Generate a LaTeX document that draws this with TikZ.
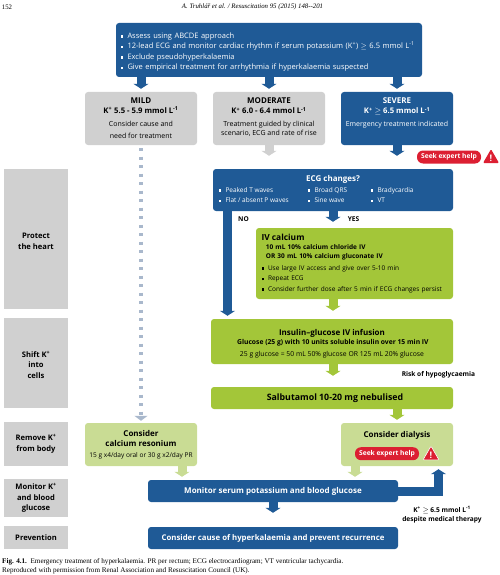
\documentclass[tikz,border=0pt]{standalone}
\usepackage{fontspec}
\setmainfont{Open Sans}
\newfontfamily\capfont{Liberation Serif}
\usetikzlibrary{arrows.meta,shapes.geometric}
\definecolor{navy}{HTML}{1F5A96}
\definecolor{ashgrey}{HTML}{D0D0D0}
\definecolor{limegreen}{HTML}{A3C639}
\definecolor{palegreen}{HTML}{C9DC94}
\definecolor{alertred}{HTML}{DC1F32}
\definecolor{dotblue}{HTML}{A9B8CC}
\newcommand{\kp}{K\textsuperscript{+}}
\newcommand{\lm}{L\textsuperscript{-1}}
\newcommand{\bu}{\makebox[6.5pt][l]{\rule[.6pt]{2.4pt}{2.4pt}}}
\newcommand{\fs}[2]{\fontsize{#1}{#2}\selectfont}
\newcommand{\dn}[1]{\rule{0pt}{#1pt}}
\tikzset{
  box/.style={rounded corners=3pt, inner sep=0pt, align=center, font=\fs{7}{10.6}},
  bluebox/.style={box, fill=navy, text=white},
  greybox/.style={box, fill=ashgrey},
  greenbox/.style={box, fill=limegreen},
  palebox/.style={box, fill=palegreen},
  sidebox/.style={fill=ashgrey, inner sep=0pt, align=center, minimum width=64pt, font=\fs{7.6}{10.6}\bfseries},
  blockarrow/.style={line width=9pt, -{Triangle[length=5pt,width=15pt]}, shorten >=3pt},
  helppill/.style={fill=alertred, text=white, rounded corners=6pt, minimum width=64pt, minimum height=13pt, inner sep=0pt, font=\fs{6.7}{9}\bfseries},
  warnsign/.style={regular polygon, regular polygon sides=3, fill=alertred, rounded corners=1pt, minimum size=18.4pt, inner sep=0pt, label={[white,font=\fs{9}{9}\bfseries,inner sep=0pt]center:!}},
  note/.style={inner sep=0pt, align=center, font=\fs{6.6}{9.2}\bfseries}
}
\begin{document}
\begin{tikzpicture}[x=1pt,y=-1pt]
  \useasboundingbox (0,0) rectangle (500,575);
  % page head
  \node[inner sep=0pt, font=\capfont\fs{6.8}{8}] (pagenum) at (7,7) {152};
  \node[inner sep=0pt, font=\capfont\itshape\fs{6.8}{8}] (runhead) at (252.5,7) {A. Truhlář et al. / Resuscitation 95 (2015) 148--201};
  % side labels
  \node[sidebox, minimum height=140pt] (protect) at (36,239) {\dn{10}Protect\\the heart};
  \node[sidebox, minimum height=90pt] (shift) at (36,363) {\dn{10}Shift \kp\\into\\cells};
  \node[sidebox, minimum height=44pt] (remove) at (36,444) {Remove \kp\\from body};
  \node[sidebox, minimum height=38pt] (monitorlab) at (36,498) {Monitor \kp\\and blood\\glucose};
  \node[sidebox, minimum height=23pt] (prevention) at (36,537.5) {Prevention};
  % top of the flow
  \node[bluebox, font=\fs{7.5}{10.6}, minimum width=306pt, minimum height=54pt, text width=296pt, align=left] (assess) at (269,50) {\dn{10}\bu Assess using ABCDE approach\\\bu 12-lead ECG and monitor cardiac rhythm if serum potassium (\kp) $\geq$ 6.5 mmol \lm\\\bu Exclude pseudohyperkalaemia\\\bu Give empirical treatment for arrhythmia if hyperkalaemia suspected};
  \node[greybox, minimum width=112pt, minimum height=53pt] (mild) at (141,118.5) {{\fs{8}{10}\bfseries MILD}\\[-.6pt]{\fs{7.7}{10}\bfseries \kp\ 5.5 - 5.9 mmol \lm}\\[2.4pt]Consider cause and\\[1.4pt]need for treatment};
  \node[greybox, minimum width=112pt, minimum height=53pt] (moderate) at (269,118.5) {{\fs{8}{10}\bfseries MODERATE}\\[-.6pt]{\fs{7.7}{10}\bfseries \kp\ 6.0 - 6.4 mmol \lm}\\[2.4pt]Treatment guided by clinical\\[-1.6pt]scenario, ECG and rate of rise\rule[-3pt]{0pt}{3pt}};
  \node[bluebox, minimum width=112pt, minimum height=53pt] (severe) at (397,118.5) {{\fs{8}{10}\bfseries SEVERE}\\[-.6pt]{\fs{7.7}{10}\bfseries \kp\ $\geq$ 6.5 mmol \lm}\\[2.4pt]Emergency treatment indicated\\[-1.6pt]\ \rule[-3pt]{0pt}{3pt}};
  \node[helppill] (helpa) at (449,157) {Seek expert help};
  \node[warnsign] (warna) at (491,158.4) {};
  % ECG branch
  \node[bluebox, font=\fs{6.5}{10.6}, minimum width=240pt, minimum height=42pt] (ecg) at (333,190) {\begin{tabular}{@{}p{89pt}@{}p{63pt}@{}p{76pt}@{}}\multicolumn{3}{c}{\fs{8}{10.6}\bfseries ECG changes?}\\\bu Peaked T waves&\bu Broad QRS&\bu Bradycardia\\\bu Flat / absent P waves&\bu Sine wave&\bu VT\end{tabular}};
  \node[note] (no) at (243.5,219) {NO};
  \node[note] (yes) at (353.5,219) {YES};
  \node[greenbox, font=\fs{6.5}{10.6}, minimum width=197pt, minimum height=71pt, text width=186pt, align=left] (calcium) at (354.5,263.5) {{\fs{8.4}{10}\bfseries IV calcium}\\[-1pt]{\bfseries\ \ 10 mL 10\% calcium chloride IV}\\[-1.6pt]{\bfseries\ \ OR 30 mL 10\% calcium gluconate IV}\\[.7pt]\bu Use large IV access and give over 5-10 min\\\bu Repeat ECG\\\bu Consider further dose after 5 min if ECG changes persist};
  \node[greenbox, font=\fs{6.8}{10.6}, minimum width=242pt, minimum height=45pt] (insulin) at (332,341.5) {\dn{10}{\fs{8}{10}\bfseries Insulin--glucose IV infusion}\\[-1pt]{\bfseries\fs{6.75}{10} Glucose (25 g) with 10 units soluble insulin over 15 min IV}\\[1pt]25 g glucose = 50 mL 50\% glucose OR 125 mL 20\% glucose};
  \node[note] (hypo) at (438.5,375) {Risk of hypoglycaemia};
  \node[greenbox, minimum width=242pt, minimum height=22pt, font=\fs{8.8}{10}\bfseries] (salbutamol) at (332,398) {\hspace*{6pt}Salbutamol 10-20 mg nebulised};
  % removal
  \node[palebox, font=\fs{6.55}{10.6}, minimum width=112pt, minimum height=43pt] (resonium) at (141,444.5) {{\fs{8}{10.6}\bfseries Consider}\\{\fs{8}{10.6}\bfseries calcium resonium}\\15 g x4/day oral or 30 g x2/day PR};
  \node[palebox, minimum width=112pt, minimum height=43pt] (dialysis) at (397,444.5) {};
  \node[inner sep=0pt, font=\fs{8}{10}\bfseries] (dialysistxt) at (397,435.5) {Consider dialysis};
  \node[helppill] (helpb) at (387,453.7) {Seek expert help};
  \node[warnsign, draw=white, line width=.6pt] (warnb) at (431,455.3) {};
  % monitoring
  \node[bluebox, minimum width=250pt, minimum height=22pt, font=\fs{8}{10}\bfseries] (monitor) at (273,491) {Monitor serum potassium and blood glucose};
  \node[bluebox, minimum width=250pt, minimum height=22pt, font=\fs{7.8}{10}\bfseries] (prevent) at (273,538) {Consider cause of hyperkalaemia and prevent recurrence};
  \node[note] (despite) at (442,515) {\kp\ $\geq$ 6.5 mmol \lm\\despite medical therapy};
  % caption
  \node[inner sep=0pt, anchor=west, align=left, font=\capfont\fs{7.15}{8.6}] (caption) at (2,566) {{\bfseries Fig. 4.1.}\ \ Emergency treatment of hyperkalaemia. PR per rectum; ECG electrocardiogram; VT ventricular tachycardia.\\Reproduced with permission from Renal Association and Resuscitation Council (UK).};
  % columns for the arrows that leave a wide box
  \coordinate (nox) at (227.5,0);
  \coordinate (yesx) at (333,0);
  \coordinate (redox) at (182,0);
  \coordinate (dialx) at (355,0);
  \coordinate (backx) at (438.5,0);
  % connectors
  \draw[blockarrow, navy] (mild.north |- assess.south) -- (mild.north);
  \draw[blockarrow, navy] (moderate.north |- assess.south) -- (moderate.north);
  \draw[blockarrow, navy] (severe.north |- assess.south) -- (severe.north);
  \draw[blockarrow, navy, shorten >=13pt] (severe.south) -- (severe.south |- ecg.north);
  \draw[blockarrow, ashgrey, shorten >=13pt] (moderate.south) -- (moderate.south |- ecg.north);
  \draw[line width=4pt, dotblue, dash pattern=on 3pt off 5.5pt, shorten <=3pt, shorten >=2pt, -{Triangle[length=5pt,width=13pt]}] (mild.south) -- (mild.south |- resonium.north);
  \draw[blockarrow, navy] (nox |- ecg.south) -- (nox |- insulin.north);
  \draw[blockarrow, navy, shorten >=6pt] (yesx |- ecg.south) -- (yesx |- calcium.north);
  \draw[blockarrow, limegreen, shorten >=8pt] (yesx |- calcium.south) -- (yesx |- insulin.north);
  \draw[blockarrow, limegreen, shorten >=11pt] (yesx |- insulin.south) -- (yesx |- salbutamol.north);
  \draw[blockarrow, limegreen] (dialysis.north |- salbutamol.south) -- (dialysis.north);
  \draw[blockarrow, palegreen] (redox |- resonium.south) -- (redox |- monitor.north);
  \draw[blockarrow, palegreen] (dialx |- dialysis.south) -- (dialx |- monitor.north);
  \draw[blockarrow, navy] (monitor.east) -| (backx |- dialysis.south);
  \draw[blockarrow, navy, shorten >=14pt] (monitor.south) -- (prevent.north);
\end{tikzpicture}
\end{document}
